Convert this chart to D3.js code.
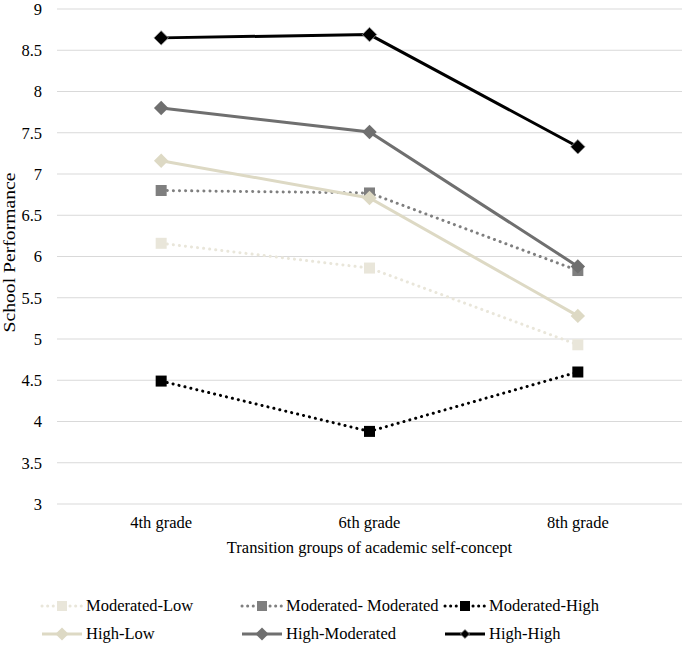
<!DOCTYPE html>
<html>
<head>
<style>
  body { margin: 0; background: #fff; }
  svg text { font-family: "Liberation Serif", "Times New Roman", serif; fill: #000; }
</style>
</head>
<body>
<div id="vizDiv"></div>
<script src="https://d3js.org/d3.v7.min.js"></script>
<script>
  // data
  const grades = ["4th grade", "6th grade", "8th grade"];
  const yTicks = [3, 3.5, 4, 4.5, 5, 5.5, 6, 6.5, 7, 7.5, 8, 8.5, 9];

  const moderatedLow = [6.16, 5.86, 4.93];
  const moderatedModerated = [6.8, 6.77, 5.83];
  const moderatedHigh = [4.49, 3.88, 4.6];
  const highLow = [7.16, 6.71, 5.28];
  const highModerated = [7.8, 7.51, 5.88];
  const highHigh = [8.65, 8.69, 7.33];

  const series = [
    { name: "Moderated-Low", values: moderatedLow, color: "#e9e6da", dash: "0.1 6", shape: "square" },
    { name: "Moderated- Moderated", values: moderatedModerated, color: "#7f7f7f", dash: "0.1 6", shape: "square" },
    { name: "Moderated-High", values: moderatedHigh, color: "#000000", dash: "0.1 6", shape: "square" },
    { name: "High-Low", values: highLow, color: "#ddd9c4", dash: null, shape: "diamond" },
    { name: "High-Moderated", values: highModerated, color: "#6f6f6f", dash: null, shape: "diamond" },
    { name: "High-High", values: highHigh, color: "#000000", dash: null, shape: "diamond" }
  ];

  const W = 685, H = 645;
  const margin = { left: 57, right: 3, top: 9, bottom: 141 };
  const FONT = "Liberation Serif";
  const FS = "16.5px";

  const svg = d3.select("#vizDiv")
    .append("svg")
    .attr("width", W)
    .attr("height", H);

  const x = d3.scaleBand()
    .domain(grades)
    .range([margin.left, W - margin.right]);

  const y = d3.scaleLinear()
    .domain([3, 9])
    .range([H - margin.bottom, margin.top]);

  // gridlines
  svg.append("g")
    .selectAll("line")
    .data(yTicks)
    .enter()
    .append("line")
    .attr("x1", margin.left)
    .attr("x2", W - margin.right)
    .attr("y1", d => y(d))
    .attr("y2", d => y(d))
    .style("stroke", "#d9d9d9")
    .style("stroke-width", 1);

  // y axis labels
  const yAxis = svg.append("g")
    .attr("transform", `translate(${margin.left - 15},0)`)
    .call(d3.axisLeft(y).tickValues(yTicks).tickSize(0).tickPadding(0).tickFormat(d3.format("")));
  yAxis.select(".domain").remove();
  yAxis.attr("font-family", FONT);
  yAxis.selectAll("text")
    .style("font-family", FONT)
    .style("font-size", FS)
    .style("fill", "#000");

  // x axis labels
  const xAxis = svg.append("g")
    .attr("transform", `translate(0,${y(3) + 10})`)
    .call(d3.axisBottom(x).tickSize(0).tickPadding(2));
  xAxis.select(".domain").remove();
  xAxis.attr("font-family", FONT);
  xAxis.selectAll("text")
    .style("font-family", FONT)
    .style("font-size", FS)
    .style("fill", "#000");

  // axis titles
  svg.append("text")
    .attr("x", x("6th grade") + x.bandwidth() / 2)
    .attr("y", 553)
    .attr("text-anchor", "middle")
    .style("font-family", FONT)
    .style("font-size", FS)
    .text("Transition groups of academic self-concept");

  svg.append("text")
    .attr("transform", `translate(15,${y(6) - 4}) rotate(-90)`)
    .attr("text-anchor", "middle")
    .style("font-family", FONT)
    .style("font-size", "16px")
    .attr("textLength", 160)
    .attr("lengthAdjust", "spacingAndGlyphs")
    .text("School Performance");

  const cx = g => x(g) + x.bandwidth() / 2;

  const line = d3.line()
    .x((d, i) => cx(grades[i]))
    .y(d => y(d));

  function drawMarker(g, shape, color, px, py, s) {
    if (shape === "square") {
      g.append("rect")
        .attr("x", px - s / 2)
        .attr("y", py - s / 2)
        .attr("width", s)
        .attr("height", s)
        .style("fill", color);
    } else {
      g.append("path")
        .attr("d", d3.symbol().type(d3.symbolDiamond2).size(s * s * 1.1)())
        .attr("transform", `translate(${px},${py})`)
        .style("fill", color)
        .style("stroke", color === "#000000" ? "#999" : "none")
        .style("stroke-width", 0.8);
    }
  }

  // lines + markers
  series.forEach(s => {
    const g = svg.append("g");
    g.append("path")
      .datum(s.values)
      .attr("d", line)
      .style("fill", "none")
      .style("stroke", s.color)
      .style("stroke-width", 3)
      .style("stroke-linecap", s.dash ? "round" : "butt")
      .style("stroke-dasharray", s.dash);
    s.values.forEach((v, i) => {
      drawMarker(g, s.shape, s.color, cx(grades[i]), y(v), 11);
    });
  });

  // legend
  const legCols = [42, 242, 445];
  const legRows = [606, 634];
  series.forEach((s, i) => {
    const lx = legCols[i % 3], ly = legRows[Math.floor(i / 3)];
    const g = svg.append("g");
    g.append("line")
      .attr("x1", lx)
      .attr("x2", lx + 40)
      .attr("y1", ly)
      .attr("y2", ly)
      .style("stroke", s.color)
      .style("stroke-width", 3)
      .style("stroke-linecap", s.dash ? "round" : "butt")
      .style("stroke-dasharray", s.dash ? "0.1 5.5" : null);
    drawMarker(g, s.shape, s.color, lx + 20, ly, s.shape === "diamond" && s.color === "#000000" ? 7 : 10);
    g.append("text")
      .attr("x", lx + 44)
      .attr("y", ly + 5)
      .style("font-family", FONT)
      .style("font-size", FS)
      .text(s.name);
  });
</script>
</body>
</html>
